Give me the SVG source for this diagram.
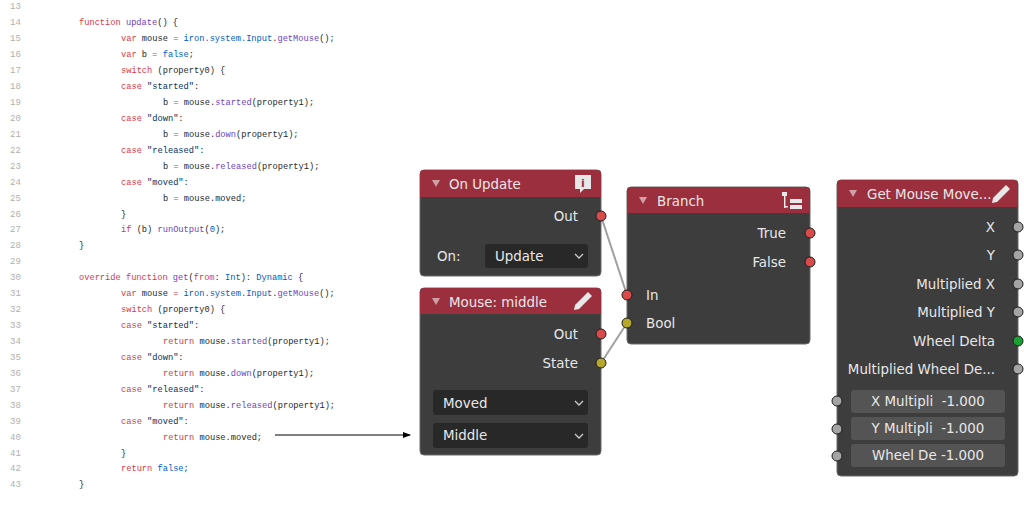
<svg xmlns="http://www.w3.org/2000/svg" width="1024" height="529" viewBox="0 0 1024 529">
<defs>
<style>
.ln{font-family:"Liberation Mono",monospace;font-size:9px;fill:#b0b0b0}
.c{font-family:"Liberation Mono",monospace;font-size:8.7px;fill:#24292e;white-space:pre}
.k{fill:#d73a49}.f{fill:#6f42c1}.b{fill:#005cc5}.s{fill:#032f62}
.body{fill:#3d3d3d;stroke:#6a6a6a;stroke-width:1}
.hd{fill:#9c2f3d}
.t{font-family:"DejaVu Sans","Noto Sans",sans-serif;font-size:13.4px;fill:#e8e8e8;white-space:pre}
.dd{fill:#282828}
.fld{fill:#545454}
.tri{fill:#d0a0a6}
.red{fill:#d94a4a;stroke:#1e1e1e;stroke-width:1}
.yel{fill:#b5a82a;stroke:#1e1e1e;stroke-width:1}
.gry{fill:#a4a4a4;stroke:#1e1e1e;stroke-width:1}
.grn{fill:#1aa032;stroke:#1e1e1e;stroke-width:1}
.chev{fill:none;stroke:#cccccc;stroke-width:1.3}
</style>
<marker id="ah" markerWidth="8" markerHeight="8" refX="7" refY="4" orient="auto" markerUnits="userSpaceOnUse"><path d="M0,1 L8,4 L0,7 Z" fill="#000"/></marker>
</defs>
<rect width="1024" height="529" fill="#fff"/>
<g id="code">
<text class="ln" x="10" y="9">13</text>
<text class="ln" x="10" y="25">14</text><text class="c" x="79" y="25"><tspan class="k">function</tspan> <tspan class="f">update</tspan>() {</text>
<text class="ln" x="10" y="41">15</text><text class="c" x="121" y="41"><tspan class="k">var</tspan> mouse <tspan class="k">=</tspan> <tspan class="b">iron.system.Input</tspan>.<tspan class="f">getMouse</tspan>();</text>
<text class="ln" x="10" y="57">16</text><text class="c" x="121" y="57"><tspan class="k">var</tspan> b <tspan class="k">=</tspan> <tspan class="b">false</tspan>;</text>
<text class="ln" x="10" y="73">17</text><text class="c" x="121" y="73"><tspan class="k">switch</tspan> (property0) {</text>
<text class="ln" x="10" y="89">18</text><text class="c" x="121" y="89"><tspan class="k">case</tspan> <tspan class="s">"started"</tspan>:</text>
<text class="ln" x="10" y="105">19</text><text class="c" x="163" y="105">b <tspan class="k">=</tspan> mouse.<tspan class="f">started</tspan>(property1);</text>
<text class="ln" x="10" y="121">20</text><text class="c" x="121" y="121"><tspan class="k">case</tspan> <tspan class="s">"down"</tspan>:</text>
<text class="ln" x="10" y="137">21</text><text class="c" x="163" y="137">b <tspan class="k">=</tspan> mouse.<tspan class="f">down</tspan>(property1);</text>
<text class="ln" x="10" y="153">22</text><text class="c" x="121" y="153"><tspan class="k">case</tspan> <tspan class="s">"released"</tspan>:</text>
<text class="ln" x="10" y="169">23</text><text class="c" x="163" y="169">b <tspan class="k">=</tspan> mouse.<tspan class="f">released</tspan>(property1);</text>
<text class="ln" x="10" y="185">24</text><text class="c" x="121" y="185"><tspan class="k">case</tspan> <tspan class="s">"moved"</tspan>:</text>
<text class="ln" x="10" y="201">25</text><text class="c" x="163" y="201">b <tspan class="k">=</tspan> mouse.moved;</text>
<text class="ln" x="10" y="217">26</text><text class="c" x="121" y="217">}</text>
<text class="ln" x="10" y="232">27</text><text class="c" x="121" y="232"><tspan class="k">if</tspan> (b) <tspan class="f">runOutput</tspan>(<tspan class="b">0</tspan>);</text>
<text class="ln" x="10" y="248">28</text><text class="c" x="79" y="248">}</text>
<text class="ln" x="10" y="264">29</text>
<text class="ln" x="10" y="280">30</text><text class="c" x="79" y="280"><tspan class="k">override function</tspan> <tspan class="f">get</tspan>(<tspan class="k">from</tspan>: <tspan class="b">Int</tspan>): <tspan class="b">Dynamic</tspan> {</text>
<text class="ln" x="10" y="296">31</text><text class="c" x="121" y="296"><tspan class="k">var</tspan> mouse <tspan class="k">=</tspan> <tspan class="b">iron.system.Input</tspan>.<tspan class="f">getMouse</tspan>();</text>
<text class="ln" x="10" y="312">32</text><text class="c" x="121" y="312"><tspan class="k">switch</tspan> (property0) {</text>
<text class="ln" x="10" y="328">33</text><text class="c" x="121" y="328"><tspan class="k">case</tspan> <tspan class="s">"started"</tspan>:</text>
<text class="ln" x="10" y="344">34</text><text class="c" x="163" y="344"><tspan class="k">return</tspan> mouse.<tspan class="f">started</tspan>(property1);</text>
<text class="ln" x="10" y="360">35</text><text class="c" x="121" y="360"><tspan class="k">case</tspan> <tspan class="s">"down"</tspan>:</text>
<text class="ln" x="10" y="376">36</text><text class="c" x="163" y="376"><tspan class="k">return</tspan> mouse.<tspan class="f">down</tspan>(property1);</text>
<text class="ln" x="10" y="392">37</text><text class="c" x="121" y="392"><tspan class="k">case</tspan> <tspan class="s">"released"</tspan>:</text>
<text class="ln" x="10" y="408">38</text><text class="c" x="163" y="408"><tspan class="k">return</tspan> mouse.<tspan class="f">released</tspan>(property1);</text>
<text class="ln" x="10" y="424">39</text><text class="c" x="121" y="424"><tspan class="k">case</tspan> <tspan class="s">"moved"</tspan>:</text>
<text class="ln" x="10" y="440">40</text><text class="c" x="163" y="440"><tspan class="k">return</tspan> mouse.moved;</text>
<text class="ln" x="10" y="456">41</text><text class="c" x="121" y="456">}</text>
<text class="ln" x="10" y="471">42</text><text class="c" x="121" y="471"><tspan class="k">return</tspan> <tspan class="b">false</tspan>;</text>
<text class="ln" x="10" y="487">43</text><text class="c" x="79" y="487">}</text>
</g>
<g id="connectors">
<path d="M601,216 L627,295" stroke="#a0a0a0" stroke-width="2" fill="none"/>
<path d="M601,363 L627,323" stroke="#a0a0a0" stroke-width="2" fill="none"/>
<line x1="275" y1="435" x2="410" y2="435" stroke="#000" stroke-width="1.2" marker-end="url(#ah)"/>
</g>
<g id="on-update">
<rect class="body" x="420" y="170" width="181" height="106" rx="4"/>
<path class="hd" d="M424,170 H597 A4,4 0 0 1 601,174 V197 H420 V174 A4,4 0 0 1 424,170 Z"/>
<path class="tri" d="M432,180 L440,180 L436,187 Z"/>
<text class="t" x="449" y="189">On Update</text>
<path d="M575,175 H591 V189 H584 L580,193 V189 H575 Z" fill="#e8e8e8"/>
<text x="583" y="187" font-family="DejaVu Sans,sans-serif" font-size="11" font-weight="bold" fill="#9c2f3d" text-anchor="middle">i</text>
<text class="t" x="578" y="221" text-anchor="end">Out</text>
<circle class="red" cx="601" cy="216" r="5"/>
<text class="t" x="437" y="261">On:</text>
<rect class="dd" x="485" y="244" width="103" height="24" rx="3"/>
<text class="t" x="495" y="261">Update</text>
<path class="chev" d="M575,254 L579,258 L583,254"/>
</g>
<g id="mouse-middle">
<rect class="body" x="420" y="288" width="181" height="167" rx="4"/>
<path class="hd" d="M424,288 H597 A4,4 0 0 1 601,292 V314 H420 V292 A4,4 0 0 1 424,288 Z"/>
<path class="tri" d="M432,298 L440,298 L436,305 Z"/>
<text class="t" x="449" y="307">Mouse: middle</text>
<path d="M575,305 L588,292 L592,296 L579,309 L574,310 Z" fill="#e8e8e8"/>
<text class="t" x="578" y="339" text-anchor="end">Out</text>
<circle class="red" cx="601" cy="334" r="5"/>
<text class="t" x="578" y="368" text-anchor="end">State</text>
<circle class="yel" cx="601" cy="363" r="5"/>
<rect class="dd" x="433" y="390" width="155" height="25" rx="3"/>
<text class="t" x="443" y="408">Moved</text>
<path class="chev" d="M575,401 L579,405 L583,401"/>
<rect class="dd" x="433" y="423" width="155" height="25" rx="3"/>
<text class="t" x="443" y="440">Middle</text>
<path class="chev" d="M575,434 L579,438 L583,434"/>
</g>
<g id="branch">
<rect class="body" x="627" y="187" width="183" height="157" rx="4"/>
<path class="hd" d="M631,187 H806 A4,4 0 0 1 810,191 V213 H627 V191 A4,4 0 0 1 631,187 Z"/>
<path class="tri" d="M639,197 L647,197 L643,204 Z"/>
<text class="t" x="657" y="206">Branch</text>
<g fill="#e8e8e8"><rect x="782" y="192" width="5" height="4"/><rect x="784" y="196" width="1.5" height="12"/><rect x="784" y="206" width="4" height="1.5"/><rect x="790" y="199" width="12" height="4"/><rect x="790" y="205" width="12" height="4"/></g>
<text class="t" x="786" y="238" text-anchor="end">True</text>
<circle class="red" cx="810" cy="233" r="5"/>
<text class="t" x="786" y="267" text-anchor="end">False</text>
<circle class="red" cx="810" cy="262" r="5"/>
<circle class="red" cx="627" cy="295" r="5"/>
<text class="t" x="646" y="300">In</text>
<circle class="yel" cx="627" cy="323" r="5"/>
<text class="t" x="646" y="328">Bool</text>
</g>
<g id="get-mouse-movement">
<rect class="body" x="837" y="180" width="181" height="296" rx="4"/>
<path class="hd" d="M841,180 H1014 A4,4 0 0 1 1018,184 V207 H837 V184 A4,4 0 0 1 841,180 Z"/>
<path class="tri" d="M849,190 L857,190 L853,197 Z"/>
<text class="t" x="867" y="199">Get Mouse Move...</text>
<path d="M993,198 L1006,185 L1010,189 L997,202 L992,203 Z" fill="#e8e8e8"/>
<text class="t" x="995" y="232" text-anchor="end">X</text><circle class="gry" cx="1018" cy="227" r="5"/>
<text class="t" x="995" y="260" text-anchor="end">Y</text><circle class="gry" cx="1018" cy="255" r="5"/>
<text class="t" x="995" y="289" text-anchor="end">Multiplied X</text><circle class="gry" cx="1018" cy="284" r="5"/>
<text class="t" x="995" y="317" text-anchor="end">Multiplied Y</text><circle class="gry" cx="1018" cy="312" r="5"/>
<text class="t" x="995" y="346" text-anchor="end">Wheel Delta</text><circle class="grn" cx="1018" cy="341" r="5"/>
<text class="t" x="995" y="374" text-anchor="end">Multiplied Wheel De...</text><circle class="gry" cx="1018" cy="369" r="5"/>
<rect class="fld" x="851" y="390" width="154" height="23" rx="3"/>
<text class="t" x="928" y="406" text-anchor="middle">X Multipli  -1.000</text>
<circle class="gry" cx="837" cy="401" r="5"/>
<rect class="fld" x="851" y="417" width="154" height="23" rx="3"/>
<text class="t" x="928" y="433" text-anchor="middle">Y Multipli  -1.000</text>
<circle class="gry" cx="837" cy="429" r="5"/>
<rect class="fld" x="851" y="444" width="154" height="23" rx="3"/>
<text class="t" x="928" y="460" text-anchor="middle">Wheel De -1.000</text>
<circle class="gry" cx="837" cy="456" r="5"/>
</g>
</svg>
